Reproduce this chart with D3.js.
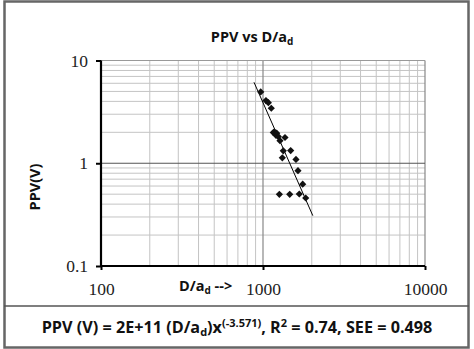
<!DOCTYPE html>
<html><head><meta charset="utf-8">
<script src="https://cdn.jsdelivr.net/npm/d3@7"></script>
<style>body{margin:0;background:#fff}svg{display:block}</style>
</head><body>
<svg id="c" width="474" height="349"></svg>
<script>
// Data (D/a_d, PPV in V)
const ratioValues = [968, 1043, 1079, 1125, 1158, 1175, 1203, 1215, 1243, 1273, 1367, 1334, 1482, 1316, 1598, 1644, 1758, 1262, 1462, 1675, 1835];
const ppvValues   = [4.94, 4.07, 3.89, 3.43, 1.99, 2.02, 1.87, 1.96, 1.82, 1.66, 1.78, 1.32, 1.33, 1.13, 1.09, 0.847, 0.625, 0.499, 0.499, 0.502, 0.459];
// Power trend line endpoints (from the fitted equation)
const trendX = [880, 2030];
const trendY = [6.14, 0.309];
const xTicks = [100, 1000, 10000];
const yTicks = [0.1, 1, 10];
const xTickLabels = ["100", "1000", "10000"];
const yTickLabels = ["0.1", "1", "10"];

const svg = d3.select("#c");
const L = 101, R = 425, T = 60.5, B = 266;
const x = d3.scaleLog().domain([100, 10000]).range([L, R]);
const y = d3.scaleLog().domain([0.1, 10]).range([B, T]);

// outer frame
svg.append("rect").attr("x", 4.5).attr("y", 1.5).attr("width", 464).attr("height", 346)
  .attr("fill", "none").attr("stroke", "#666").attr("stroke-width", 2.5);
svg.append("line").attr("x1", 4).attr("x2", 469).attr("y1", 306).attr("y2", 306)
  .attr("stroke", "#555").attr("stroke-width", 1.5);

// gridlines
const g = svg.append("g");
const minorX = [], minorY = [];
[100, 1000].forEach(d => { for (let k = 2; k <= 9; k++) minorX.push(d * k); });
[0.1, 1].forEach(d => { for (let k = 2; k <= 9; k++) minorY.push(d * k); });
g.selectAll(".mx").data(minorX).join("line")
  .attr("x1", d => x(d)).attr("x2", d => x(d)).attr("y1", T).attr("y2", B)
  .attr("stroke", "#c4c4c4").attr("stroke-width", 1);
g.selectAll(".my").data(minorY).join("line")
  .attr("x1", L).attr("x2", R).attr("y1", d => y(d)).attr("y2", d => y(d))
  .attr("stroke", "#c4c4c4").attr("stroke-width", 1);
g.selectAll(".Mx").data([1000, 10000]).join("line")
  .attr("x1", d => x(d)).attr("x2", d => x(d)).attr("y1", T).attr("y2", B)
  .attr("stroke", "#888").attr("stroke-width", 1.2);
g.selectAll(".My").data([1, 10]).join("line")
  .attr("x1", L).attr("x2", R).attr("y1", d => y(d)).attr("y2", d => y(d))
  .attr("stroke", d => d === 1 ? "#555" : "#999").attr("stroke-width", 1.2);

// axes
const xAxis = d3.axisBottom(x).tickValues(xTicks).tickSize(4).tickFormat((d, i) => xTickLabels[i]);
const yAxis = d3.axisLeft(y).tickValues(yTicks).tickSize(5).tickFormat((d, i) => yTickLabels[i]);
const gx = svg.append("g").attr("transform", `translate(0,${B})`).call(xAxis);
const gy = svg.append("g").attr("transform", `translate(${L},0)`).call(yAxis);
[gx, gy].forEach(a => {
  a.select(".domain").attr("stroke", "#000").attr("stroke-width", 2.2);
  a.selectAll(".tick line").attr("stroke", "#000").attr("stroke-width", 2);
  a.selectAll("text").attr("font-family", "Liberation Serif").attr("font-size", 17.5).attr("fill", "#222");
});
gx.select(".domain").attr("d", `M${L},0H${R}`);
gy.select(".domain").attr("d", `M0,${B}V${T}`);
gx.selectAll(".tick text").attr("dy", 0).attr("y", 29);
gy.selectAll(".tick text").attr("x", -13).attr("dy", "0.32em");

// trend line
svg.append("line")
  .attr("x1", x(trendX[0])).attr("y1", y(trendY[0]))
  .attr("x2", x(trendX[1])).attr("y2", y(trendY[1]))
  .attr("stroke", "#000").attr("stroke-width", 1);

// markers
const pts = ratioValues.map((v, i) => [v, ppvValues[i]]);
svg.append("g").selectAll("path").data(pts).join("path")
  .attr("d", d3.symbol(d3.symbolSquare, 26))
  .attr("transform", d => `translate(${x(d[0])},${y(d[1])}) rotate(45)`)
  .attr("fill", "#111");

// title
const title = svg.append("text").attr("x", 252).attr("y", 42).attr("text-anchor", "middle")
  .attr("font-family", "Open Sans").attr("font-weight", "bold").attr("font-size", 14.5).attr("fill", "#111");
title.append("tspan").text("PPV vs D/a");
title.append("tspan").attr("font-size", 10).attr("dy", 3).text("d");

// axis titles
svg.append("text").attr("transform", "translate(40,187) rotate(-90)").attr("text-anchor", "middle")
  .attr("font-family", "Open Sans").attr("font-weight", "bold").attr("font-size", 14.5).attr("fill", "#111")
  .text("PPV(V)");
const xl = svg.append("text").attr("x", 179).attr("y", 291)
  .attr("font-family", "Open Sans").attr("font-weight", "bold").attr("font-size", 14.5).attr("fill", "#111");
xl.append("tspan").text("D/a");
xl.append("tspan").attr("font-size", 10).attr("dy", 3).text("d");
xl.append("tspan").attr("dy", -3).text(" -->");

// equation
const eq = svg.append("text").attr("x", 237).attr("y", 333).attr("text-anchor", "middle")
  .attr("font-family", "Open Sans").attr("font-weight", "bold").attr("font-size", 16.2).attr("fill", "#111");
eq.append("tspan").text("PPV (V) = 2E+11 (D/a");
eq.append("tspan").attr("font-size", 11).attr("dy", 3).text("d");
eq.append("tspan").attr("dy", -3).text(")x");
eq.append("tspan").attr("font-size", 11).attr("dy", -6).text("(-3.571)");
eq.append("tspan").attr("dy", 6).text(", R");
eq.append("tspan").attr("font-size", 11).attr("dy", -6).text("2");
eq.append("tspan").attr("dy", 6).text(" = 0.74, SEE = 0.498");
</script>
</body></html>
